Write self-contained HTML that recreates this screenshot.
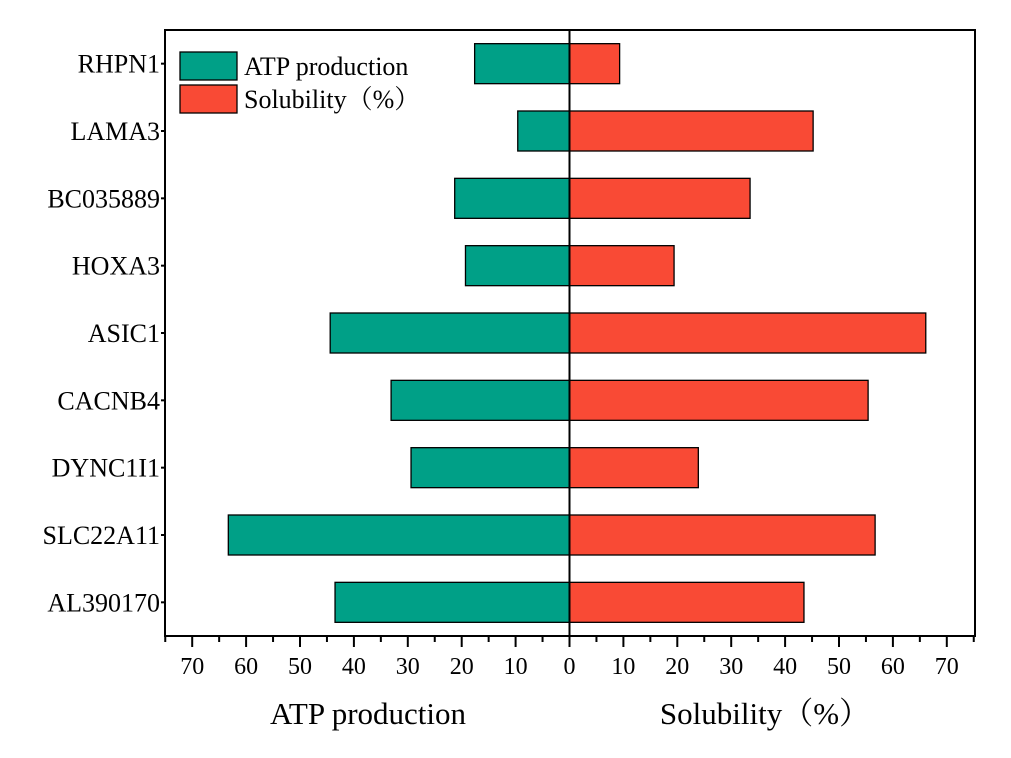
<!DOCTYPE html>
<html><head><meta charset="utf-8"><style>
body{margin:0;background:#fff}
text{font-family:"Liberation Serif","Noto Serif CJK SC",serif;fill:#000}
</style></head><body>
<svg width="1011" height="753">
<g id="g"></g>
</svg>
<script>
const categories=["RHPN1","LAMA3","BC035889","HOXA3","ASIC1","CACNB4","DYNC1I1","SLC22A11","AL390170"];
const atpValues=[17.6,9.6,21.3,19.3,44.4,33.1,29.4,63.3,43.5];
const solValues=[9.3,45.2,33.5,19.4,66.1,55.4,23.9,56.7,43.5];
const tickLabels=[70,60,50,40,30,20,10,0,10,20,30,40,50,60,70];
const tickValues=[-70,-60,-50,-40,-30,-20,-10,0,10,20,30,40,50,60,70];
const NS="http://www.w3.org/2000/svg";
const g=document.getElementById('g');
const L=165,R=975,T=30,B=636,X0=569.5,S=5.39;
const x=v=>X0+v*S;
const band=(B-T)/categories.length;
const y=i=>T+band*(i+0.5);
function mk(t,a){const e=document.createElementNS(NS,t);for(const k in a)e.setAttribute(k,a[k]);g.appendChild(e);return e;}
categories.forEach((c,i)=>{
 const h=40;
 let r=mk('rect',{x:x(-atpValues[i]),y:y(i)-h/2,width:atpValues[i]*S,height:h,fill:'#00a087',stroke:'#000','stroke-width':1.3});
 
 
 let s=mk('rect',{x:X0,y:y(i)-h/2,width:solValues[i]*S,height:h,fill:'#f94a35',stroke:'#000','stroke-width':1.3});
 
 
 let t=mk('text',{x:L-5,y:y(i)+9,'text-anchor':'end','font-size':26});t.textContent=c;
 
 
 mk('line',{x1:L-4,x2:L,y1:y(i),y2:y(i),stroke:'#000','stroke-width':2});
});
mk('rect',{x:L,y:T,width:R-L,height:B-T,fill:'none',stroke:'#000','stroke-width':2});
mk('line',{x1:X0,x2:X0,y1:T,y2:B,stroke:'#000','stroke-width':2});
for(let v=-75;v<=75;v+=5){const xx=x(v);if(xx<L-1||xx>R+1)continue;const maj=v%10===0;mk('line',{x1:xx,x2:xx,y1:B,y2:B+(maj?11:6),stroke:'#000','stroke-width':2});}
tickValues.forEach((v,i)=>{let t=mk('text',{x:x(v),y:674,'text-anchor':'middle','font-size':24});t.textContent=tickLabels[i];
 
 });
let a=mk('text',{x:368,y:724,'text-anchor':'middle','font-size':31});a.textContent='ATP production';


let b=mk('text',{x:765,y:724,'text-anchor':'middle','font-size':31});b.textContent='Solubility（%）';


let l1=mk('rect',{x:180,y:52,width:57,height:28,fill:'#00a087',stroke:'#000','stroke-width':1.3});


let l2=mk('rect',{x:180,y:85,width:57,height:28,fill:'#f94a35',stroke:'#000','stroke-width':1.3});


let t1=mk('text',{x:244,y:75,'font-size':26});t1.textContent='ATP production';


let t2=mk('text',{x:244,y:108,'font-size':26});t2.textContent='Solubility（%）';


</script>
</body></html>
